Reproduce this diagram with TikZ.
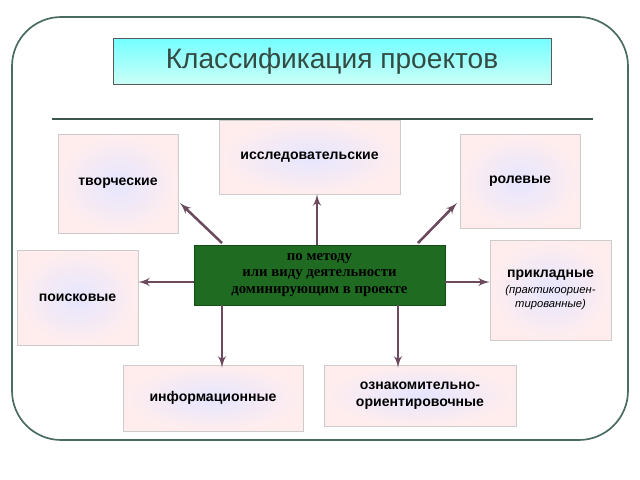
\documentclass[tikz,border=0pt]{standalone}
\usepackage{fontspec}
\setmainfont{Liberation Sans}
\newfontfamily\serifbold{Liberation Serif}
\usetikzlibrary{shapes,arrows}
\definecolor{frameclr}{HTML}{4A6B60}
\definecolor{arrowclr}{HTML}{6B4A5E}
\definecolor{centerclr}{HTML}{1F6B22}
\tikzset{kind/.style = {shape=rectangle,draw=gray!40,inner color=blue!10,outer color=red!7,font=\bfseries\fontsize{10}{12}\selectfont,align=center,inner sep=2pt}}
\tikzset{edge/.style = {->,> = latex',line width=1.8pt,draw=arrowclr}}

\begin{document}
\begin{tikzpicture}[x=0.025cm,y=-0.025cm]
		\useasboundingbox (0,0) rectangle (640,480);
		% frame
		\draw[frameclr,line width=1.2pt,rounded corners=35] (12,17) rectangle (628,440);
		\draw[frameclr!80!black,line width=1.5pt] (52,119) -- (593,119);
		% title
		\node[draw=gray!70!black,top color=cyan!55,bottom color=green!15!cyan!20,minimum width=438*0.025cm,minimum height=46*0.025cm,font=\fontsize{20}{22}\selectfont,text=frameclr!70!black] (title) at (332,61) {Классификация проектов};
		% vertices
		\node[fill=centerclr,draw=centerclr!70!black,minimum width=251*0.025cm,minimum height=60*0.025cm,align=center,font=\serifbold\bfseries\fontsize{10.5}{12}\selectfont,inner sep=0pt] (method) at (319.5,275) {по методу\\или виду деятельности\\доминирующим в проекте};
		\node[kind,minimum width=181*0.025cm,minimum height=74*0.025cm] (research) at (309.5,157) {исследовательские};
		\node[kind,minimum width=120*0.025cm,minimum height=99*0.025cm] (creative) at (118,183.5) {творческие};
		\node[kind,minimum width=120*0.025cm,minimum height=94*0.025cm] (role) at (520,181) {ролевые};
		\node[kind,minimum width=121*0.025cm,minimum height=95*0.025cm] (search) at (77.5,297.5) {поисковые};
		\node[kind,minimum width=121*0.025cm,minimum height=100*0.025cm] (applied) at (550.5,290) {прикладные\\[-1pt]{\normalfont\itshape\footnotesize (практикоориен-}\\[-2pt]{\normalfont\itshape\footnotesize тированные)}};
		\node[kind,minimum width=180*0.025cm,minimum height=66*0.025cm] (info) at (213,398) {информационные};
		\node[kind,minimum width=192*0.025cm,minimum height=61*0.025cm] (intro) at (420,395.5) {ознакомительно-\\ориентировочные};
		% arrow ends
		\coordinate (a1) at (222,243);
		\coordinate (a2) at (418,243);
		\coordinate (b1) at (180,203);
		\coordinate (b2) at (457,203);
		\coordinate (m1) at (317,245);
		\coordinate (m2) at (194,282);
		\coordinate (m3) at (445,282);
		\coordinate (m4) at (222,305);
		\coordinate (m5) at (398,305);
		%edges
		\draw[edge] (m1)  to (m1 |- research.south);
		\draw[edge] (a1)  to (b1);
		\draw[edge] (a2)  to (b2);
		\draw[edge] (m2)  to (search.east |- m2);
		\draw[edge] (m3)  to (applied.west |- m3);
		\draw[edge] (m4)  to ([yshift=-2pt]m4 |- info.north);
		\draw[edge] (m5)  to ([yshift=-2pt]m5 |- intro.north);
	\end{tikzpicture}
\end{document}
